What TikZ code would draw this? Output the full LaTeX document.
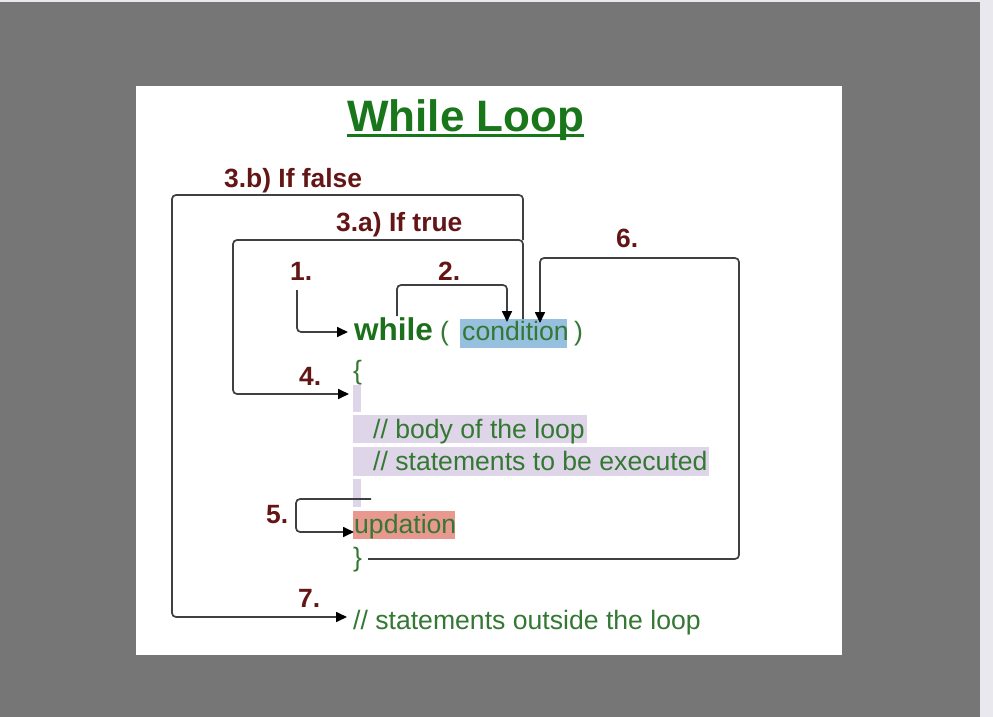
\documentclass[tikz,border=0pt]{standalone}
\usepackage{fontspec}
\setmainfont{Liberation Sans}
\usetikzlibrary{arrows.meta}
\definecolor{bggray}{RGB}{118,118,118}
\definecolor{edgestrip}{RGB}{232,232,238}
\definecolor{titlegreen}{RGB}{26,118,26}
\definecolor{codegreen}{RGB}{52,120,52}
\definecolor{kwgreen}{RGB}{28,112,28}
\definecolor{lblred}{RGB}{100,22,22}
\definecolor{condblue}{RGB}{150,192,222}
\definecolor{lavender}{RGB}{222,214,232}
\definecolor{salmon}{RGB}{232,152,142}
\definecolor{wire}{RGB}{64,64,64}
\tikzset{
  lbl/.style={inner sep=0pt, anchor=base west, text=lblred, font=\fontsize{26.4}{29}\selectfont\bfseries},
  code/.style={inner sep=0pt, anchor=base west, text=codegreen, font=\fontsize{26.6}{30}\selectfont},
  wirepath/.style={draw=wire, line width=1.7pt, rounded corners=4pt},
  flow/.style={wirepath, -{Triangle[length=11pt,width=10pt,fill=black,color=black]}}
}
\begin{document}
\begin{tikzpicture}[x=1pt,y=-1pt]
\useasboundingbox (0,0) rectangle (993,717);
% background
\fill[edgestrip] (0,0) rectangle (993,717);
\fill[bggray] (0,2) rectangle (980,717);
\fill[white] (136,86) rectangle (842,655);

% title
\node[inner sep=0pt, anchor=base west, text=titlegreen, font=\fontsize{44}{48}\selectfont\bfseries] (title) at (347,131) {While Loop};
\draw[titlegreen, line width=3pt] (title.base west) ++(0,4) coordinate (ulA) -- (ulA -| title.east);

% highlight boxes
\fill[condblue] (460,319) rectangle (567,348);
\fill[lavender] (353,385) rectangle (361,412);
\fill[lavender] (353,415) rectangle (587,443);
\fill[lavender] (353,447) rectangle (709,476);
\fill[lavender] (353,479) rectangle (361,507);
\fill[salmon] (353,511) rectangle (455,539);

% code text
\node[inner sep=0pt, anchor=base west, text=kwgreen, font=\fontsize{31.5}{34}\selectfont\bfseries] (kw) at (354,340) {while};
\node[code] (lp) at (440,340) {(};
\node[code] (cond) at (462,340) {condition};
\node[code] (rp) at (574,340) {)};
\node[code] (ob) at (353,379) {\{};
\node[code] (body1) at (373,438) {// body of the loop};
\node[code] (body2) at (373,470) {// statements to be executed};
\node[code] (upd) at (354,533) {updation};
\node[code] (cb) at (353,566) {\}};
\node[code] (outside) at (353,629) {// statements outside the loop};

% labels
\node[lbl] (l3b) at (224,187) {3.b) If false};
\node[lbl] (l3a) at (336,231) {3.a) If true};
\node[lbl] (l1) at (290,280) {1.};
\node[lbl] (l2) at (438,280) {2.};
\node[lbl] (l6) at (616,247) {6.};
\node[lbl] (l4) at (299,385) {4.};
\node[lbl] (l5) at (266,523) {5.};
\node[lbl] (l7) at (298,607) {7.};

% connector coordinates
\coordinate (c1s) at (297,290);
\coordinate (c1b) at (297,332);
\coordinate (c1e) at (348,332);
\coordinate (c2s) at (397,316);
\coordinate (c2a) at (397,285);
\coordinate (c2b) at (507,285);
\coordinate (c2e) at (507,322);
\coordinate (c3s) at (523,319);
\coordinate (c3at) at (523,240);
\coordinate (c3al) at (233,240);
\coordinate (c3ab) at (233,394);
\coordinate (c3ae) at (349,394);
\coordinate (c3bt) at (523,195);
\coordinate (c3bl) at (172,195);
\coordinate (c3bb) at (172,617);
\coordinate (c3be) at (347,617);
\coordinate (c5s) at (371,499);
\coordinate (c5a) at (296,499);
\coordinate (c5b) at (296,532);
\coordinate (c5e) at (354,532);
\coordinate (c6s) at (368,559);
\coordinate (c6a) at (739,559);
\coordinate (c6b) at (739,258);
\coordinate (c6c) at (540,258);
\coordinate (c6e) at (540,323);

% connectors
\draw[flow] (c1s) -- (c1b) -- (c1e);
\draw[flow] (c2s) -- (c2a) -- (c2b) -- (c2e);
\draw[flow] (c3s) -- (c3at) -- (c3al) -- (c3ab) -- (c3ae);
\draw[flow] (c3at) -- (c3bt) -- (c3bl) -- (c3bb) -- (c3be);
\draw[flow] (c5s) -- (c5a) -- (c5b) -- (c5e);
\draw[flow] (c6s) -- (c6a) -- (c6b) -- (c6c) -- (c6e);
\end{tikzpicture}
\end{document}
